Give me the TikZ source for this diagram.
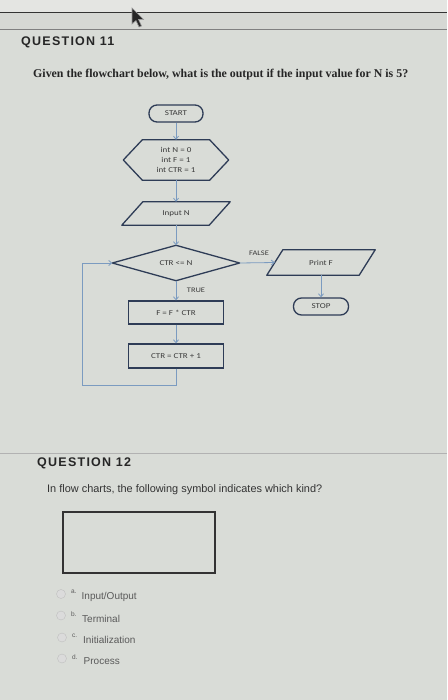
\documentclass[tikz,border=0pt]{standalone}
\usepackage{fontspec}
\usepackage{graphicx}
\setmainfont{Liberation Serif}
\newfontfamily\arialf{Liberation Sans}
\newfontfamily\calibf[FakeStretch=1.2]{Carlito}
\usetikzlibrary{arrows.meta}
\definecolor{bgc}{HTML}{D9DCD7}
\definecolor{topc}{HTML}{E4E5E2}
\definecolor{bandc}{HTML}{D6D8D4}
\definecolor{navy}{HTML}{2E3C56}
\definecolor{connc}{HTML}{7B9BC0}
\definecolor{txtc}{HTML}{3A3A3A}
\definecolor{optc}{HTML}{5A5A5A}
\begin{document}
\begin{tikzpicture}[x=1pt,y=-1pt,
  core/.style={inner sep=0pt, align=center, text=txtc, font=\calibf\fontsize{7.5}{10}\selectfont},
  term/.style={core, draw=navy, line width=1.3pt, rounded corners=8pt},
  pbox/.style={core, draw=navy, line width=1.3pt, minimum width=95pt},
  shp/.style={draw=navy, line width=1.3pt, line join=round},
  conn/.style={draw=connc, line width=0.8pt, -{Straight Barb[length=3pt,width=5pt]}},
  loopl/.style={draw=connc, line width=0.8pt},
  lbl/.style={inner sep=0pt, text=txtc, font=\calibf\fontsize{7}{8}\selectfont},
  qhead/.style={anchor=west, inner sep=0pt, text=black!85, font=\arialf\bfseries\fontsize{12.5}{13}\selectfont\addfontfeatures{LetterSpace=10}},
  opt/.style={anchor=west, inner sep=0pt, text=optc, font=\arialf\fontsize{10}{11}\selectfont},
  optl/.style={anchor=west, inner sep=0pt, text=optc, font=\arialf\fontsize{6.5}{7}\selectfont},
  radio/.style={circle, draw=black!25, fill=black!14, minimum size=9pt, inner sep=0pt}
]
\fill[bgc] (0,0) rectangle (447,700);
\useasboundingbox (0,0) rectangle (447,700);
% top browser strip
\fill[topc] (0,0) rectangle (447,12);
\fill[bandc] (0,13) rectangle (447,29);
\draw[black!80, line width=1.2pt] (0,12.5) -- (447,12.5);
\draw[black!50, line width=0.7pt] (0,29) -- (447,29);
% cursor
\filldraw[fill=black!85, draw=black!40, line width=0.6pt] (132,8) -- (132,24) -- (136,20.5) -- (139,27) -- (141.5,26) -- (138.5,19.5) -- (143.5,19.5) -- cycle;

% Question 11
\node[qhead] (q11) at (21,42) {QUESTION 11};
\node[anchor=west, inner sep=0pt, text=black!85] (q11t) at (33,74.5)
  {\resizebox{375pt}{!}{\bfseries Given the flowchart below, what is the output if the input value for N is 5?}};

% flowchart
\node[term, minimum width=54pt, minimum height=17pt] (start) at (176,113.5) {START};
\node[core, minimum width=105pt, minimum height=40pt] (init) at (176,160) {int N = 0\\int F = 1\\int CTR = 1};
\draw[shp] (init.west) -- ([xshift=19pt]init.north west) -- ([xshift=-19pt]init.north east) -- (init.east) -- ([xshift=-19pt]init.south east) -- ([xshift=19pt]init.south west) -- cycle;
\node[core, minimum width=87pt, minimum height=23pt] (input) at (176,213.5) {Input N};
\draw[shp] ([xshift=-10.5pt]input.south west) -- ([xshift=10.5pt]input.north west) -- ([xshift=10.5pt]input.north east) -- ([xshift=-10.5pt]input.south east) -- cycle;
\node[core, minimum width=127pt, minimum height=35pt] (dec) at (176,263) {CTR <= N};
\draw[shp] (dec.west) -- (dec.north) -- (dec.east) -- (dec.south) -- cycle;
\node[core, minimum width=92pt, minimum height=25pt] (printf) at (321,262.5) {Print F};
\draw[shp] ([xshift=-8pt]printf.south west) -- ([xshift=8pt]printf.north west) -- ([xshift=8pt]printf.north east) -- ([xshift=-8pt]printf.south east) -- cycle;
\node[term, minimum width=55pt, minimum height=17pt] (stop) at (321,306.5) {STOP};
\node[pbox, minimum height=23pt] (mul) at (176,312.5) {F = F * CTR};
\node[pbox, minimum height=24pt] (inc) at (176,356) {CTR = CTR + 1};
\node[lbl] (false) at (259,253) {FALSE};
\node[lbl] (true) at (196,290) {TRUE};
\coordinate (lc) at (82,385);

\draw[conn] (start) -- (init);
\draw[conn] (init) -- (input);
\draw[conn] (input) -- (dec);
\draw[conn] (dec) -- (mul);
\draw[conn] (mul) -- (inc);
\draw[conn] (dec.east) -- (printf.west);
\draw[conn] (printf) -- (stop);
\draw[loopl] (inc.south) |- (lc);
\draw[conn] (lc) |- (dec.west);

% separator
\draw[black!30, line width=0.8pt] (0,453) -- (447,453);

% Question 12
\node[qhead] (q12) at (37,463) {QUESTION 12};
\node[anchor=west, inner sep=0pt, text=black!80] (q12t) at (47,490)
  {\resizebox{275pt}{!}{\arialf In flow charts, the following symbol indicates which kind?}};
\node[draw=black!80, line width=1.4pt, minimum width=152pt, minimum height=61pt, inner sep=0pt] (sym) at (139,542.5) {};

\node[radio] (ra) at (61,594) {};
\node[radio] (rb) at (61,615.5) {};
\node[radio] (rc) at (62,637.5) {};
\node[radio] (rd) at (62,658.5) {};
\node[optl] (la) at (71,592) {a.};
\node[optl] (lb) at (71,614) {b.};
\node[optl] (lc2) at (72,636) {c.};
\node[optl] (ld) at (72,657) {d.};
\node[opt] (oa) at (81.5,597) {Input/Output};
\node[opt] (ob) at (82,618.5) {Terminal};
\node[opt] (oc) at (83,640) {Initialization};
\node[opt] (od) at (83.5,661.5) {Process};
\end{tikzpicture}
\end{document}
